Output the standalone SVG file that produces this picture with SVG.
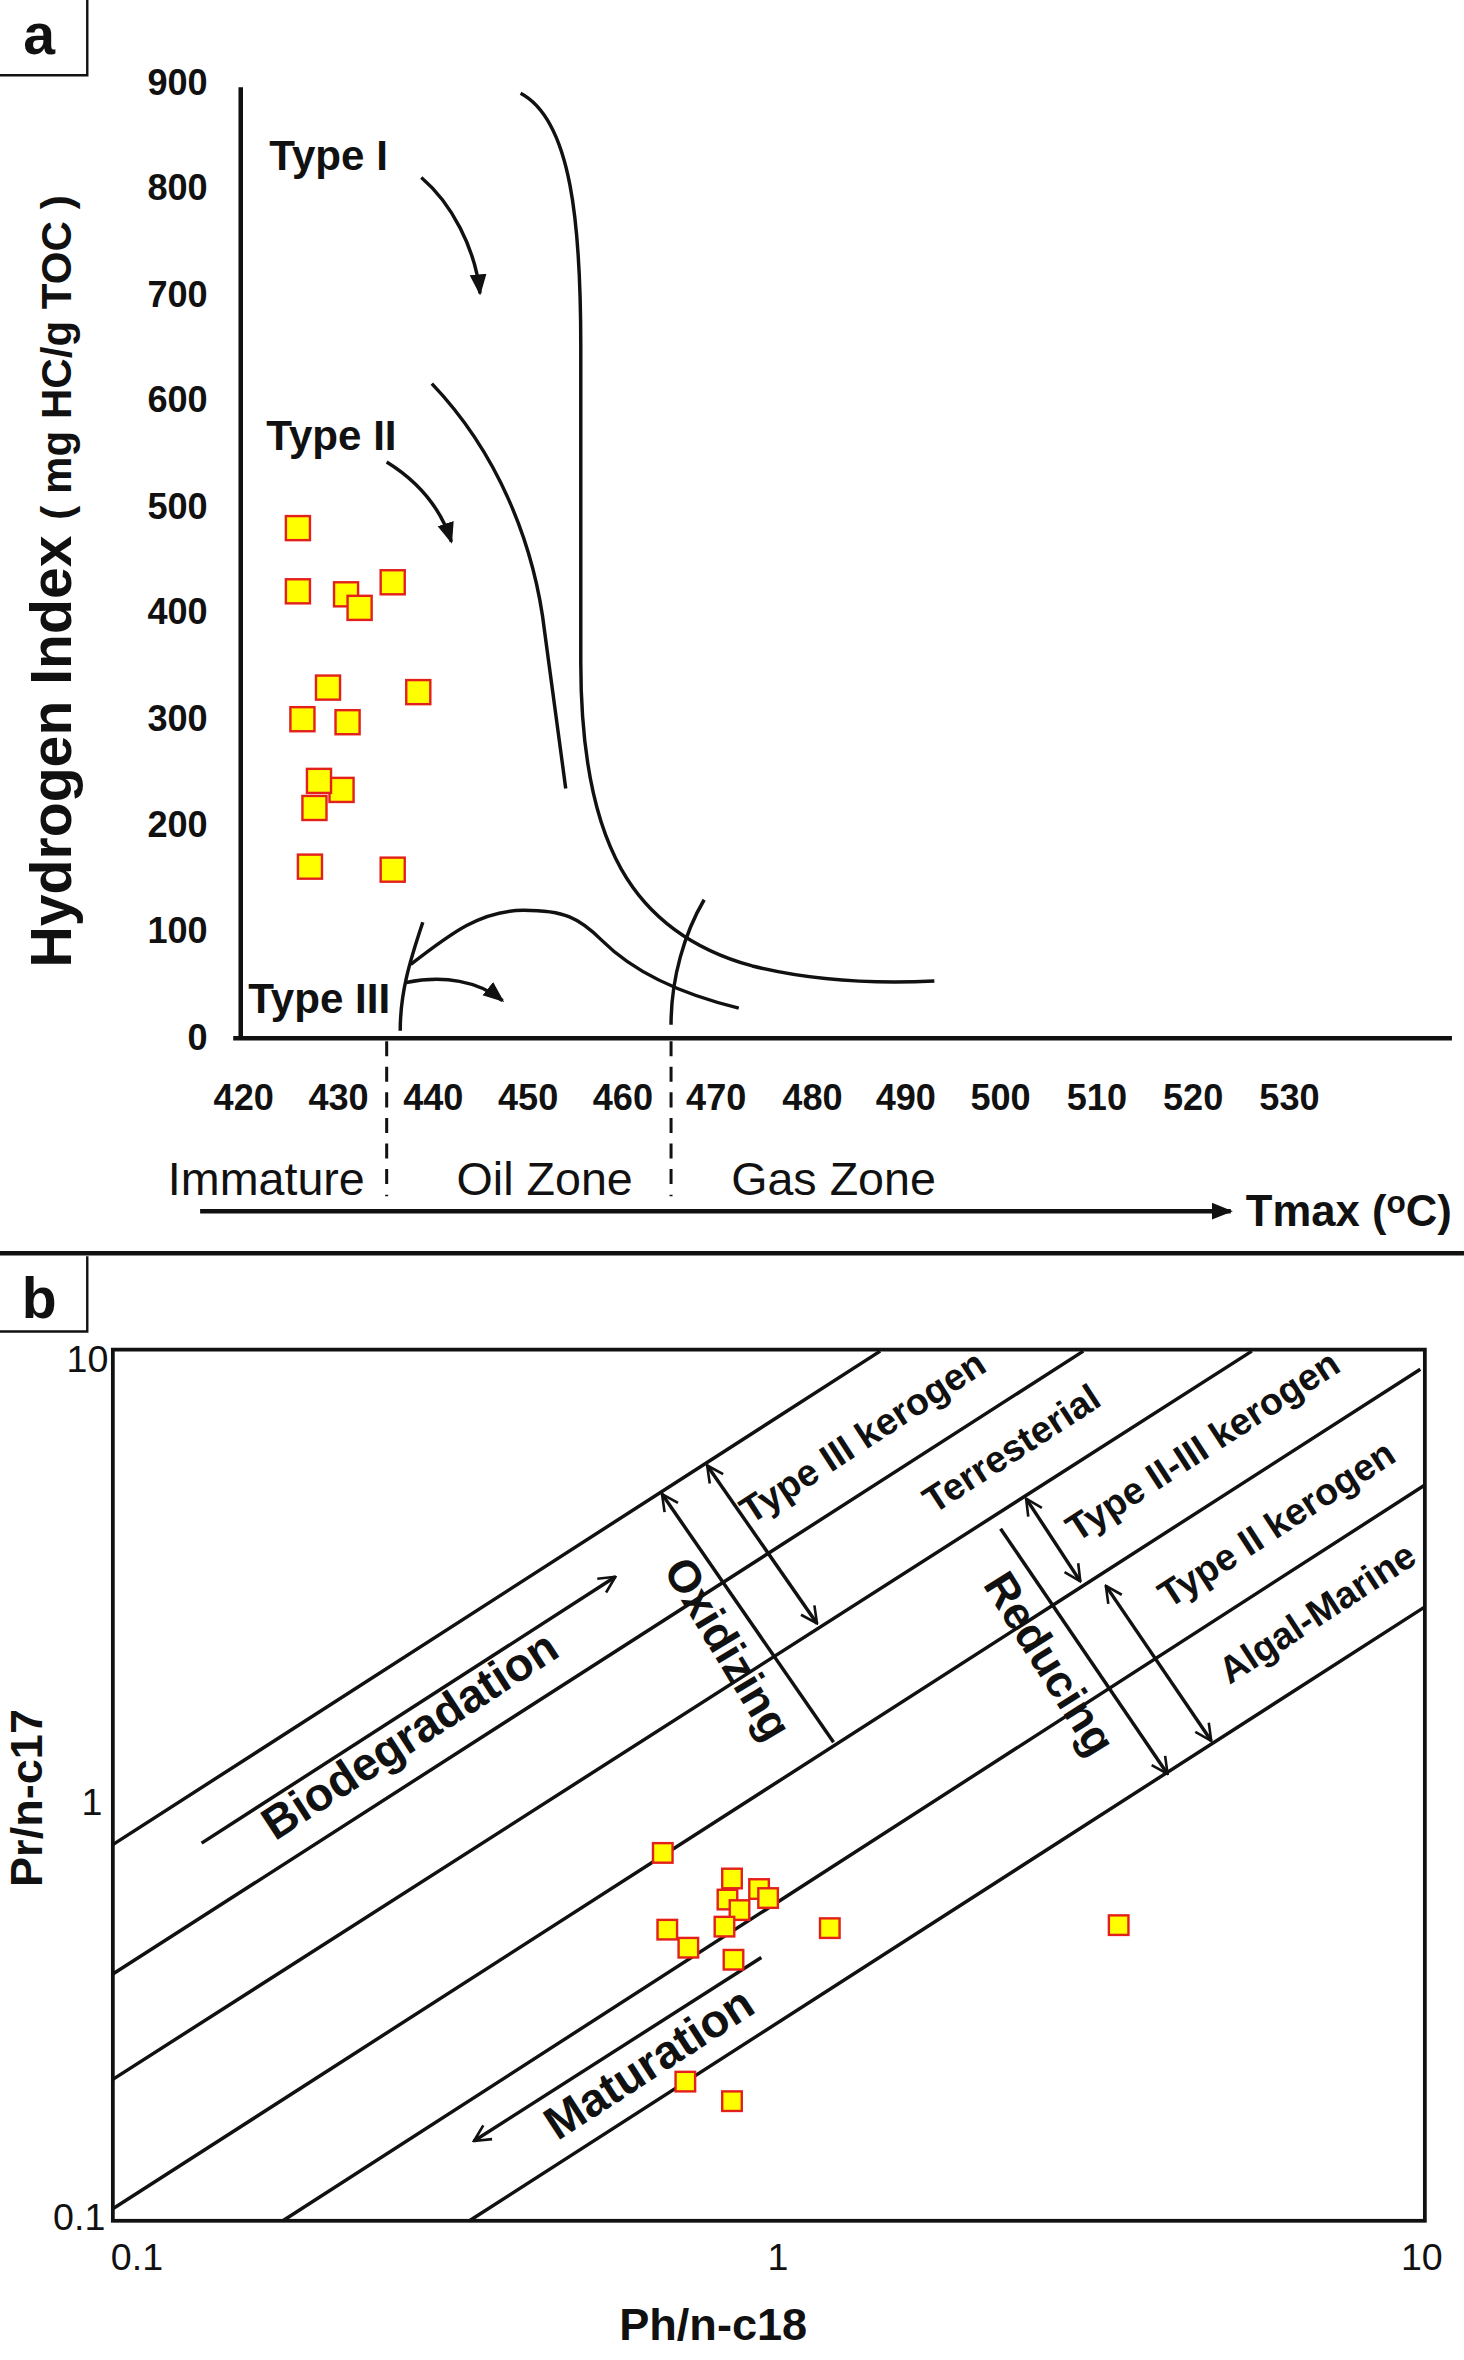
<svg xmlns="http://www.w3.org/2000/svg" width="1464" height="2360" viewBox="0 0 1464 2360">
<style>
text{font-family:"Liberation Sans",Arial,sans-serif;fill:#111}
.b{font-weight:bold}
.tick{font-size:24px;font-weight:bold}
.ax{stroke:#111;stroke-width:3;fill:none}
.crv{stroke:#111;stroke-width:2.3;fill:none}
.thin{stroke:#111;stroke-width:1.6;fill:none}
.pt{fill:#ffff00;stroke:#e3201b;stroke-width:1.6}
.lb{font-size:25px;font-weight:bold}
</style>
<defs>
<marker id="fa2" viewBox="0 0 10 10" refX="9" refY="5" markerWidth="14" markerHeight="14" orient="auto" markerUnits="userSpaceOnUse"><path d="M0,1 L10,5 L0,9 Z" fill="#111"/></marker>
<marker id="oa" viewBox="0 0 12 12" refX="11" refY="6" markerWidth="13" markerHeight="13" orient="auto-start-reverse" markerUnits="userSpaceOnUse"><path d="M1,1 L11,6 L1,11" fill="none" stroke="#111" stroke-width="1.6"/></marker>
</defs>
<rect width="1464" height="2360" fill="#fff"/>
<g transform="scale(1.5046)">
<g id="panel-a">
<path class="thin" d="M0,50 H58 V0"/>
<text class="b" x="26" y="36" font-size="38" text-anchor="middle">a</text>
<g id="axes-a">
<path class="ax" d="M160,58 V690 M155,690 H965"/>
<g class="tick" text-anchor="end">
<text x="138" y="63">900</text><text x="138" y="133">800</text><text x="138" y="204">700</text><text x="138" y="274">600</text><text x="138" y="345">500</text><text x="138" y="415">400</text><text x="138" y="486">300</text><text x="138" y="556">200</text><text x="138" y="627">100</text><text x="138" y="698">0</text>
</g>
<g class="tick" text-anchor="middle">
<text x="162" y="738">420</text><text x="225" y="738">430</text><text x="288" y="738">440</text><text x="351" y="738">450</text><text x="414" y="738">460</text><text x="476" y="738">470</text><text x="540" y="738">480</text><text x="602" y="738">490</text><text x="665" y="738">500</text><text x="729" y="738">510</text><text x="793" y="738">520</text><text x="857" y="738">530</text>
</g>
<text class="b" transform="translate(47,643) rotate(-90)" font-size="38">Hydrogen Index <tspan font-size="28">( mg HC/g TOC )</tspan></text>
<path d="M257,692 V795 M446,692 V795" stroke="#111" stroke-width="2" stroke-dasharray="10,7" fill="none"/>
<g font-size="31" text-anchor="middle">
<text x="177" y="794">Immature</text><text x="362" y="794">Oil Zone</text><text x="554" y="794">Gas Zone</text>
</g>
<path class="ax" d="M133,805 H818" marker-end="url(#fa2)"/>
<text x="828" y="815" font-size="29" class="b">Tmax (<tspan font-size="21" dy="-9">o</tspan><tspan dy="9">C)</tspan></text>
</g>
<g id="curves-a">
<path class="crv" d="M346,62 C380,80 386,150 386,230 L386,440 C386,560 420,620 500,642 C540,652 580,654 621,652"/>
<path class="crv" d="M287,255 C330,300 355,360 362,420 L376,524"/>
<path class="crv" d="M273,641 C300,620 320,605 348,605 C375,605 385,610 400,625 C420,645 450,660 491,670"/>
<path class="crv" d="M281,613 C272,640 266,660 266,685"/>
<path class="crv" d="M468,598 C455,620 446,650 446,681"/>
<path class="crv" d="M280,118 C300,135 316,165 319,195" marker-end="url(#fa2)"/>
<path class="crv" d="M257,307 C278,320 293,338 300,360" marker-end="url(#fa2)"/>
<path class="crv" d="M270,653 C295,648 318,652 334,665" marker-end="url(#fa2)"/>
<g font-size="28" class="b">
<text x="179" y="113">Type I</text><text x="177" y="299">Type II</text><text x="165" y="673">Type III</text>
</g>
</g>
<g id="points-a">
<rect class="pt" x="190" y="343" width="16" height="16"/>
<rect class="pt" x="190" y="385" width="16" height="16"/>
<rect class="pt" x="222" y="387" width="16" height="16"/>
<rect class="pt" x="231" y="396" width="16" height="16"/>
<rect class="pt" x="253" y="379" width="16" height="16"/>
<rect class="pt" x="210" y="449" width="16" height="16"/>
<rect class="pt" x="270" y="452" width="16" height="16"/>
<rect class="pt" x="193" y="470" width="16" height="16"/>
<rect class="pt" x="223" y="472" width="16" height="16"/>
<rect class="pt" x="219" y="517" width="16" height="16"/>
<rect class="pt" x="204" y="511" width="16" height="16"/>
<rect class="pt" x="201" y="529" width="16" height="16"/>
<rect class="pt" x="198" y="568" width="16" height="16"/>
<rect class="pt" x="253" y="570" width="16" height="16"/>
</g>
</g>
<path d="M0,833 H973" stroke="#111" stroke-width="3"/>
<g id="panel-b">
<path class="thin" d="M0,885 H58 V835"/>
<text class="b" x="26" y="876" font-size="38" text-anchor="middle">b</text>
<g id="axes-b">
<rect x="75" y="897" width="872" height="579" fill="none" stroke="#111" stroke-width="2.5"/>
<g font-size="25" text-anchor="end">
<text x="72" y="912">10</text><text x="68" y="1206">1</text><text x="70" y="1482">0.1</text>
</g>
<g font-size="25" text-anchor="middle">
<text x="91" y="1509">0.1</text><text x="517" y="1509">1</text><text x="945" y="1509">10</text>
</g>
<text class="b" x="474" y="1555" font-size="30" text-anchor="middle">Ph/n-c18</text>
<text class="b" transform="translate(28,1195) rotate(-90)" font-size="30" text-anchor="middle">Pr/n-c17</text>
</g>
<g id="connectors">
<path class="crv" d="M75,1226 L585,898 M75,1312 L720,898 M75,1382 L832,898 M75,1468 L944,910 M188,1476 L947,987 M312,1476 L947,1068"/>
<path class="crv" d="M134,1225 L409,1048" marker-end="url(#oa)"/>
<path class="crv" d="M506,1301 L315,1423" marker-end="url(#oa)"/>
<path class="crv" d="M554,1158 L440,993" marker-end="url(#oa)"/>
<path class="crv" d="M470,974 L543,1079" marker-start="url(#oa)" marker-end="url(#oa)"/>
<path class="crv" d="M665,1016 L776,1179" marker-end="url(#oa)"/>
<path class="crv" d="M682,996 L718,1051" marker-start="url(#oa)" marker-end="url(#oa)"/>
<path class="crv" d="M735,1054 L805,1157" marker-start="url(#oa)" marker-end="url(#oa)"/>
</g>
<g id="labels-b">
<text class="b" transform="translate(278,1162) rotate(-33)" font-size="31" text-anchor="middle">Biodegradation</text>
<text class="b" transform="translate(437,1380) rotate(-33)" font-size="31" text-anchor="middle">Maturation</text>
<text class="b" transform="translate(475,1101) rotate(59)" font-size="30" text-anchor="middle">Oxidizing</text>
<text class="b" transform="translate(689,1111) rotate(58)" font-size="30" text-anchor="middle">Reducing</text>
<text class="lb" transform="translate(578,962) rotate(-33)" text-anchor="middle">Type III kerogen</text>
<text class="lb" transform="translate(677,970) rotate(-33)" text-anchor="middle">Terresterial</text>
<text class="lb" transform="translate(804,968) rotate(-33)" text-anchor="middle">Type II-III kerogen</text>
<text class="lb" transform="translate(853,1020) rotate(-33)" text-anchor="middle">Type II kerogen</text>
<text class="lb" transform="translate(880,1079) rotate(-33)" text-anchor="middle">Algal-Marine</text>
</g>
<g id="points-b">
<rect class="pt" x="434" y="1225" width="13" height="13"/>
<rect class="pt" x="480" y="1242" width="13" height="13"/>
<rect class="pt" x="498" y="1249" width="13" height="13"/>
<rect class="pt" x="477" y="1256" width="13" height="13"/>
<rect class="pt" x="504" y="1255" width="13" height="13"/>
<rect class="pt" x="485" y="1263" width="13" height="13"/>
<rect class="pt" x="437" y="1276" width="13" height="13"/>
<rect class="pt" x="475" y="1274" width="13" height="13"/>
<rect class="pt" x="545" y="1275" width="13" height="13"/>
<rect class="pt" x="451" y="1288" width="13" height="13"/>
<rect class="pt" x="481" y="1296" width="13" height="13"/>
<rect class="pt" x="737" y="1273" width="13" height="13"/>
<rect class="pt" x="449" y="1377" width="13" height="13"/>
<rect class="pt" x="480" y="1390" width="13" height="13"/>
</g>
</g>
</g>
</svg>
